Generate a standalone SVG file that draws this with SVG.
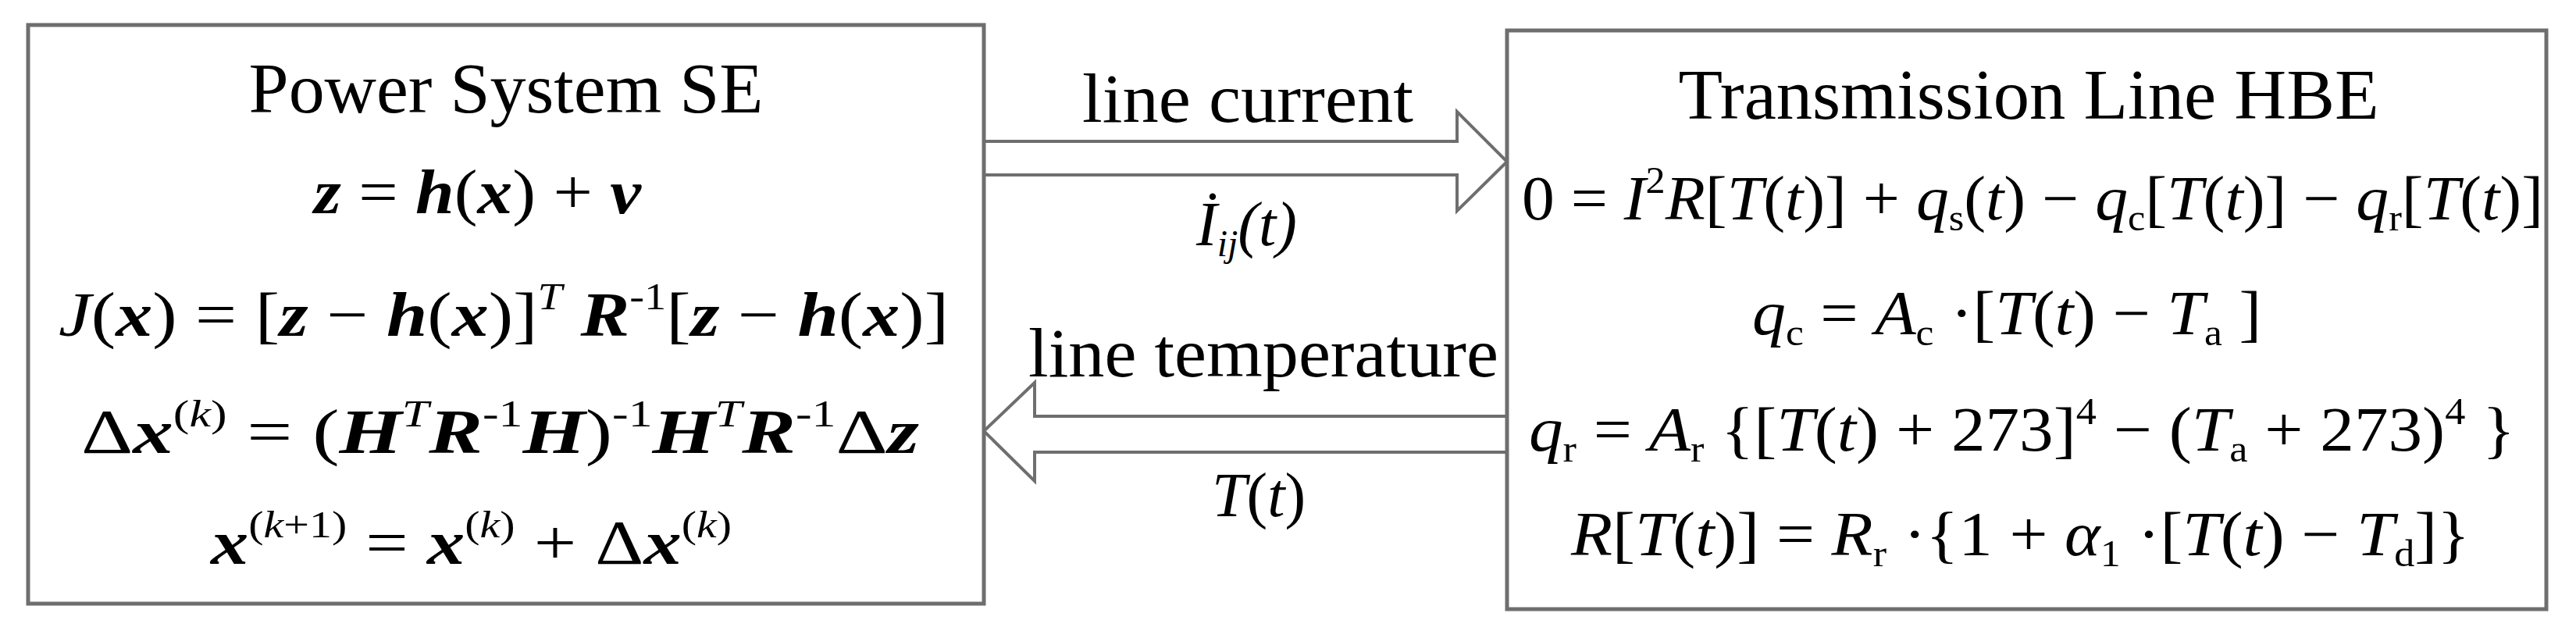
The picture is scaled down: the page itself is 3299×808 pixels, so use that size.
<svg xmlns="http://www.w3.org/2000/svg" width="3299" height="808" viewBox="0 0 3299 808">
<style>
text{font-family:"Liberation Serif","Times New Roman",serif;font-size:80px;fill:#000}
.t{font-size:90px;text-anchor:middle}
.l{font-size:88px;text-anchor:middle}
.e{font-size:80px}
.b{font-weight:bold;font-style:italic}
.i{font-style:italic}
.s{font-size:48px}
.box{fill:#fff;stroke:#6e6e6e;stroke-width:5}
.arr{fill:#fff;stroke:#6e6e6e;stroke-width:4;stroke-linejoin:miter}
</style>
<rect width="3299" height="808" fill="#fff"/>
<g id="connectors">
<polygon class="arr" points="1260,181 1866,181 1866,143 1930,207 1866,270 1866,224 1260,224"/>
<polygon class="arr" points="1930,533 1325,533 1325,490 1260,552 1325,616 1325,579 1930,579"/>
<text class="l" x="1598" y="156" textLength="424" lengthAdjust="spacingAndGlyphs">line current</text>
<text x="1532" y="314" class="i" font-size="66">I&#775;<tspan class="s" font-size="40" dy="14">ij</tspan><tspan dy="-14">(t)</tspan></text>
<text class="l" x="1618" y="482" textLength="602" lengthAdjust="spacingAndGlyphs">line temperature</text>
<text x="1552" y="661" class="i" font-size="86">T<tspan font-style="normal">(</tspan>t<tspan font-style="normal">)</tspan></text>
</g>
<g id="ps">
<rect class="box" x="36" y="32" width="1224" height="741"/>
<text class="t" x="648" y="144" textLength="659" lengthAdjust="spacingAndGlyphs">Power System SE</text>
<text class="e" x="402" y="273" textLength="419" lengthAdjust="spacingAndGlyphs"><tspan class="b">z</tspan> = <tspan class="b">h</tspan>(<tspan class="b">x</tspan>) + <tspan class="b">v</tspan></text>
<text class="e" x="75" y="430" textLength="1140" lengthAdjust="spacingAndGlyphs"><tspan class="i">J</tspan>(<tspan class="b">x</tspan>) = [<tspan class="b">z</tspan> − <tspan class="b">h</tspan>(<tspan class="b">x</tspan>)]<tspan class="s i" dy="-34">T</tspan><tspan dy="34"> </tspan><tspan class="b">R</tspan><tspan class="s" dy="-34">-1</tspan><tspan dy="34">[</tspan><tspan class="b">z</tspan> − <tspan class="b">h</tspan>(<tspan class="b">x</tspan>)]</text>
<text class="e" x="104" y="580" textLength="1073" lengthAdjust="spacingAndGlyphs">Δ<tspan class="b">x</tspan><tspan class="s" dy="-34">(<tspan class="i">k</tspan>)</tspan><tspan dy="34"> = (</tspan><tspan class="b">H</tspan><tspan class="s i" dy="-34">T</tspan><tspan class="b" dy="34">R</tspan><tspan class="s" dy="-34">-1</tspan><tspan class="b" dy="34">H</tspan><tspan>)</tspan><tspan class="s" dy="-34">-1</tspan><tspan class="b" dy="34">H</tspan><tspan class="s i" dy="-34">T</tspan><tspan class="b" dy="34">R</tspan><tspan class="s" dy="-34">-1</tspan><tspan dy="34">Δ</tspan><tspan class="b">z</tspan></text>
<text class="e" x="270" y="722" textLength="667" lengthAdjust="spacingAndGlyphs"><tspan class="b">x</tspan><tspan class="s" dy="-34">(<tspan class="i">k</tspan>+1)</tspan><tspan dy="34"> = </tspan><tspan class="b">x</tspan><tspan class="s" dy="-34">(<tspan class="i">k</tspan>)</tspan><tspan dy="34"> + Δ</tspan><tspan class="b">x</tspan><tspan class="s" dy="-34">(<tspan class="i">k</tspan>)</tspan></text>
</g>
<g id="hbe">
<rect class="box" x="1930" y="39" width="1331" height="741"/>
<text class="t" x="2598" y="152" textLength="897" lengthAdjust="spacingAndGlyphs">Transmission Line HBE</text>
<text class="e" x="1949" y="281" textLength="1308" lengthAdjust="spacingAndGlyphs">0 = <tspan class="i">I</tspan><tspan class="s" dy="-34">2</tspan><tspan class="i" dy="34">R</tspan>[<tspan class="i">T</tspan>(<tspan class="i">t</tspan>)] + <tspan class="i">q</tspan><tspan class="s" dy="14">s</tspan><tspan dy="-14">(</tspan><tspan class="i">t</tspan>) − <tspan class="i">q</tspan><tspan class="s" dy="14">c</tspan><tspan dy="-14">[</tspan><tspan class="i">T</tspan>(<tspan class="i">t</tspan>)] − <tspan class="i">q</tspan><tspan class="s" dy="14">r</tspan><tspan dy="-14">[</tspan><tspan class="i">T</tspan>(<tspan class="i">t</tspan>)]</text>
<text class="e" x="2244" y="428" textLength="652" lengthAdjust="spacingAndGlyphs"><tspan class="i">q</tspan><tspan class="s" dy="14">c</tspan><tspan dy="-14"> = </tspan><tspan class="i">A</tspan><tspan class="s" dy="14">c</tspan><tspan dy="-14"> ·[</tspan><tspan class="i">T</tspan>(<tspan class="i">t</tspan>) − <tspan class="i">T</tspan><tspan class="s" dy="14">a</tspan><tspan dy="-14"> ]</tspan></text>
<text class="e" x="1958" y="577" textLength="1263" lengthAdjust="spacingAndGlyphs"><tspan class="i">q</tspan><tspan class="s" dy="14">r</tspan><tspan dy="-14"> = </tspan><tspan class="i">A</tspan><tspan class="s" dy="14">r</tspan><tspan dy="-14"> {[</tspan><tspan class="i">T</tspan>(<tspan class="i">t</tspan>) + 273]<tspan class="s" dy="-34">4</tspan><tspan dy="34"> − (</tspan><tspan class="i">T</tspan><tspan class="s" dy="14">a</tspan><tspan dy="-14"> + 273)</tspan><tspan class="s" dy="-34">4</tspan><tspan dy="34"> }</tspan></text>
<text class="e" x="2012" y="711" textLength="1151" lengthAdjust="spacingAndGlyphs"><tspan class="i">R</tspan>[<tspan class="i">T</tspan>(<tspan class="i">t</tspan>)] = <tspan class="i">R</tspan><tspan class="s" dy="14">r</tspan><tspan dy="-14"> ·{1 + </tspan><tspan class="i">α</tspan><tspan class="s" dy="14">1</tspan><tspan dy="-14"> ·[</tspan><tspan class="i">T</tspan>(<tspan class="i">t</tspan>) − <tspan class="i">T</tspan><tspan class="s" dy="14">d</tspan><tspan dy="-14">]}</tspan></text>
</g>
</svg>
